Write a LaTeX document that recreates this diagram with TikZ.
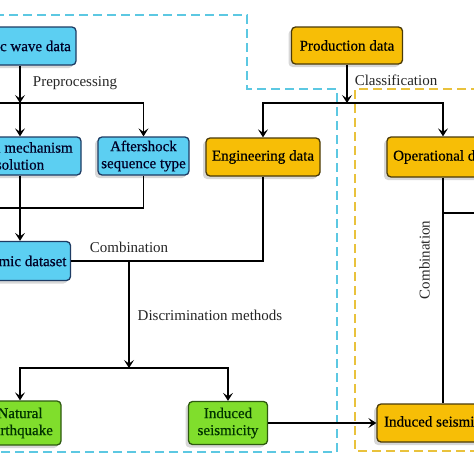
\documentclass[tikz,border=0pt]{standalone}
\usepackage{fontspec}
\setmainfont{Liberation Serif}
\newfontfamily\boxfont{Liberation Serif}[FakeBold=0.5]
\usetikzlibrary{arrows.meta,shadows}
\definecolor{cyanfill}{HTML}{5CCFF2}
\definecolor{cyanedge}{HTML}{1E3C64}
\definecolor{yelfill}{HTML}{F7BE06}
\definecolor{yeledge}{HTML}{4A3A08}
\definecolor{grnfill}{HTML}{80DE2C}
\definecolor{grnedge}{HTML}{2E5A10}
\definecolor{cyandash}{HTML}{5CC8E2}
\definecolor{yeldash}{HTML}{E9C23C}
\begin{document}
\begin{tikzpicture}[x=1pt,y=-1pt,
  font=\fontsize{15}{17}\selectfont,
  boxbase/.style={rounded corners=4pt, line width=1.3pt, align=center, inner sep=0pt,
    font=\boxfont\fontsize{15}{17}\selectfont,
    drop shadow={shadow xshift=-3pt, shadow yshift=-3pt, opacity=0.3, fill=gray}},
  cyanbox/.style={boxbase, fill=cyanfill, draw=cyanedge, text=black!85!blue},
  yelbox/.style={boxbase, fill=yelfill, draw=yeledge, text=black},
  grnbox/.style={boxbase, fill=grnfill, draw=grnedge, text=black!80!green},
  conn/.style={line width=1.9pt, black},
  arr/.style={conn, -{Stealth[length=8pt,width=10pt,inset=3.5pt]}},
  lbl/.style={text=black!85, inner sep=0pt},
  dashc/.style={line width=1.4pt, dash pattern=on 9pt off 5pt},
]
\useasboundingbox (0,0) rectangle (474,474);
\clip (0,0) rectangle (474,474);
\fill[white] (0,0) rectangle (474,474);

% dashed frames
\draw[dashc, cyandash] (-5,15) -- (247,15) -- (247,89) -- (337,89) -- (337,452) -- (-5,452);
\draw[dashc, yeldash] (480,89) -- (355,89) -- (355,451) -- (480,451);

% nodes
\node[cyanbox, minimum width=122pt, minimum height=38pt] (swd) at (15,46) {Seismic wave data};
\node[cyanbox, minimum width=122pt, minimum height=38pt] (fms) at (20,156) {Focal mechanism\\solution};
\node[cyanbox, minimum width=91pt, minimum height=38pt] (ast) at (143.5,156) {Aftershock\\sequence type};
\node[cyanbox, minimum width=101pt, minimum height=39pt] (sds) at (20,261) {Seismic dataset};
\node[grnbox, minimum width=82pt, minimum height=44pt] (ne) at (20,423) {Natural\\earthquake};
\node[grnbox, minimum width=79pt, minimum height=43pt] (is) at (228,423) {Induced\\seismicity};
\node[yelbox, minimum width=111pt, minimum height=37pt] (pd) at (347,45.5) {Production data};
\node[yelbox, minimum width=114pt, minimum height=38pt] (ed) at (263,157) {Engineering data};
\node[yelbox, minimum width=112pt, minimum height=40pt] (od) at (443,157) {Operational data};
\node[yelbox, minimum width=127pt, minimum height=38pt] (isy) at (440.5,423) {Induced seismicity};

% coordinates
\coordinate (j1) at (20,103);
\coordinate (l1) at (-10,103);
\coordinate (l2) at (-10,208);
\coordinate (c1) at (129,261);
\coordinate (j2) at (129,368);
\coordinate (j3) at (347,103);
\coordinate (r2) at (480,213);

% left connectors
\draw[arr] (swd.south -| j1) -- (j1);
\draw[arr] (l1) -| (ast.north);
\draw[arr] (j1) -- (fms.north);
\draw[arr] (fms.south) -- (sds.north);
\draw[conn] (ast.south) |- (l2);
\draw[conn] (ed.south) |- (sds.east);
\draw[arr] (c1) -- (j2);
\draw[arr] (j2) -| (ne.north);
\draw[arr] (j2) -| (is.north);
\draw[arr] (is.east) -- (is.east -| isy.west);

% right connectors
\draw[arr] (pd.south) -- (j3);
\draw[arr] (j3) -| (ed.north);
\draw[arr] (j3) -| (od.north);
\draw[conn] (od.south) -- (isy.north -| od.south);
\draw[conn] (od.south |- r2) -- (r2);

% labels
\node[lbl] (lpre) at (75,83) {Preprocessing};
\node[lbl] (lcomb) at (129,247) {Combination};
\node[lbl] (ldisc) at (210,315) {Discrimination methods};
\node[lbl] (lclass) at (396,80) {Classification};
\node[lbl, rotate=90] (lcomb2) at (424.5,260) {Combination};
\end{tikzpicture}
\end{document}
